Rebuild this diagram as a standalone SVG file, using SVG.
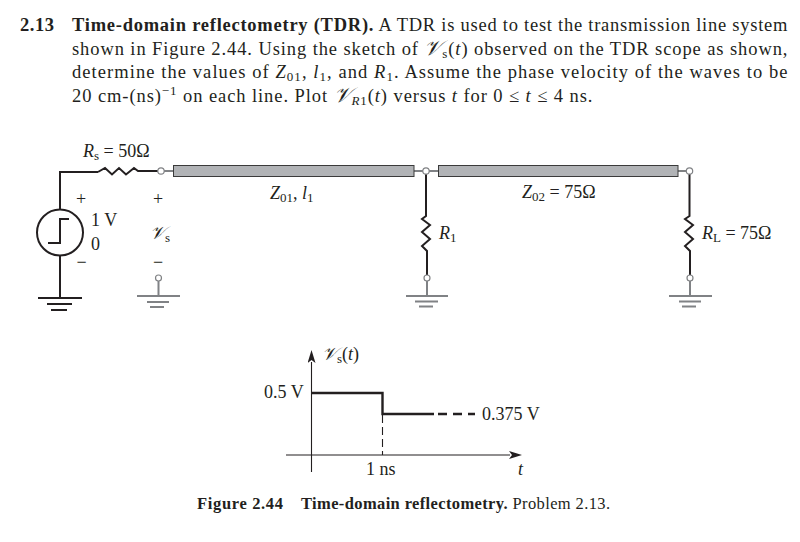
<svg xmlns="http://www.w3.org/2000/svg" width="800" height="542" viewBox="0 0 800 542">
<style>
text{font-family:"Liberation Serif","DejaVu Serif",serif;fill:#231f20}
.p{font-size:18.5px;letter-spacing:.55px}
.b{font-weight:bold}
.i{font-style:italic}
.l{font-size:18px}
.sub{font-size:13px}
.w{fill:none;stroke:#231f20;stroke-width:2}
.g{fill:none;stroke:#808285;stroke-width:2}
.t{fill:#b1b3b6;stroke:#3a3a3a;stroke-width:1}
.n{fill:#fff;stroke:#808285;stroke-width:1.2}
.k{fill:none;stroke:#231f20;stroke-width:2.4}
.a{fill:none;stroke:#231f20;stroke-width:1.1}
</style>
<defs>
<marker id="ah" markerWidth="14" markerHeight="8" refX="1" refY="4" orient="auto" markerUnits="userSpaceOnUse"><path d="M0 0L13 4L0 8L3 4Z" fill="#231f20"/></marker>
</defs>
<g id="problem-text">
<text class="p b" x="20" y="31">2.13</text>
<text class="p" x="72" y="31" textLength="716"><tspan class="b">Time-domain reflectometry (TDR).</tspan> A TDR is used to test the transmission line system</text>
<text class="p" x="72" y="54.500" textLength="716">shown in Figure 2.44. Using the sketch of <tspan class="i" font-size="21">𝒱</tspan><tspan class="sub" dy="3">s</tspan><tspan dy="-3">(</tspan><tspan class="i">t</tspan>) observed on the TDR scope as shown,</text>
<text class="p" x="72" y="78" textLength="716">determine the values of <tspan class="i">Z</tspan><tspan class="sub" dy="3">01</tspan><tspan dy="-3">, </tspan><tspan class="i">l</tspan><tspan class="sub" dy="3">1</tspan><tspan dy="-3">, and </tspan><tspan class="i">R</tspan><tspan class="sub" dy="3">1</tspan><tspan dy="-3">. Assume the phase velocity of the waves to be</tspan></text>
<text class="p" x="72" y="101.500" textLength="521">20 cm-(ns)<tspan class="sub" dy="-7">−1</tspan><tspan dy="7"> on each line. Plot </tspan><tspan class="i" font-size="21">𝒱</tspan><tspan class="sub i" dy="3">R</tspan><tspan class="sub">1</tspan><tspan dy="-3">(</tspan><tspan class="i">t</tspan>) versus <tspan class="i">t</tspan> for 0 ≤ <tspan class="i">t</tspan> ≤ 4 ns.</text>
</g>
<g id="connectors">
<path class="w" d="M60 210V172H98"/>
<path class="w" d="M98 172L105 168L112 174.500L119 168L126 174.500L134 168L138 171H158"/>
<path class="w" d="M60 256V298"/>
<path class="g" d="M164 171H173M414 171H423M429 171H438M678 171H686"/>
<path class="w" d="M426 174V216L422 219L430 225L422 232L430 239L422 246L427 251V275"/>
<path class="w" d="M689.500 174V216L685 219L693 225L685 232L693 239L685 246L690 251V275"/>
<path class="g" d="M158.500 281V296M427 281V296M690 281V296"/>
</g>
<g id="source">
<circle cx="60" cy="232.500" r="23" fill="#fff" stroke="#231f20" stroke-width="2"/>
<path class="w" d="M48 243H60V219H69"/>
</g>
<g id="ground-source"><path d="M38 298H82M47 304H72M51 310H67" class="w"/></g>
<g id="ground-vs"><path d="M137 296H180M147 302H169M150 307H164" class="g"/></g>
<g id="ground-r1"><path d="M406 296H448M415 301.500H438M419 306.500H433" class="g"/></g>
<g id="ground-rl"><path d="M669 296H712M679 301.500H701M682 306.500H696" class="g"/></g>
<g id="line-1"><rect class="t" x="173.500" y="165.500" width="240.500" height="11"/></g>
<g id="line-2"><rect class="t" x="438.500" y="165.500" width="239.500" height="11"/></g>
<g id="terminals">
<circle class="n" cx="161" cy="171" r="3.200"/>
<circle class="n" cx="426" cy="171" r="3.200"/>
<circle class="n" cx="689.500" cy="171" r="3.200"/>
<circle class="n" cx="158.500" cy="278" r="3"/>
<circle class="n" cx="427" cy="278" r="3"/>
<circle class="n" cx="690" cy="278" r="3"/>
</g>
<g id="circuit-labels">
<text class="l" x="83" y="157"><tspan class="i">R</tspan><tspan class="sub" dy="3">s</tspan><tspan dy="-3"> = 50Ω</tspan></text>
<text class="l" x="76" y="205">+</text>
<text class="l" x="153" y="205">+</text>
<text class="l" x="91" y="226">1 V</text>
<text class="l" x="91" y="250">0</text>
<text class="l" x="76.500" y="268">−</text>
<text class="l" x="153" y="268">−</text>
<text class="l i" x="150" y="239" font-size="20">𝒱<tspan class="sub" font-style="normal" dy="3">s</tspan></text>
<text class="l" x="270" y="199"><tspan class="i">Z</tspan><tspan class="sub" dy="3">01</tspan><tspan dy="-3">, </tspan><tspan class="i">l</tspan><tspan class="sub" dy="3">1</tspan></text>
<text class="l" x="522" y="198"><tspan class="i">Z</tspan><tspan class="sub" dy="3">02</tspan><tspan dy="-3"> = 75Ω</tspan></text>
<text class="l" x="439" y="239"><tspan class="i">R</tspan><tspan class="sub" dy="3">1</tspan></text>
<text class="l" x="702" y="239"><tspan class="i">R</tspan><tspan class="sub" dy="3">L</tspan><tspan dy="-3"> = 75Ω</tspan></text>
</g>
<g id="graph">
<path class="a" d="M311.500 472V362" marker-end="url(#ah)"/>
<path class="a" d="M286 455H510" marker-end="url(#ah)"/>
<path class="k" d="M312 393H382.500V414H434"/>
<path class="k" stroke-dasharray="9 6" d="M438 414H475"/>
<path class="a" stroke-dasharray="8 4" d="M382.500 415V455"/>
<text class="l" x="264" y="398">0.5 V</text>
<text class="l i" x="322" y="360" font-size="19">𝒱<tspan class="sub" font-style="normal" dy="3">s</tspan><tspan font-style="normal" dy="-3">(</tspan>t<tspan font-style="normal">)</tspan></text>
<text class="l" x="482" y="420">0.375 V</text>
<text class="l" x="366" y="475">1 ns</text>
<text class="l i" x="518" y="475">t</text>
</g>
<g id="caption">
<text x="197" y="509" font-size="16.500" class="b" textLength="86">Figure 2.44</text>
<text x="301" y="509" font-size="16.500" textLength="309"><tspan class="b">Time-domain reflectometry.</tspan> Problem 2.13.</text>
</g>
</svg>
